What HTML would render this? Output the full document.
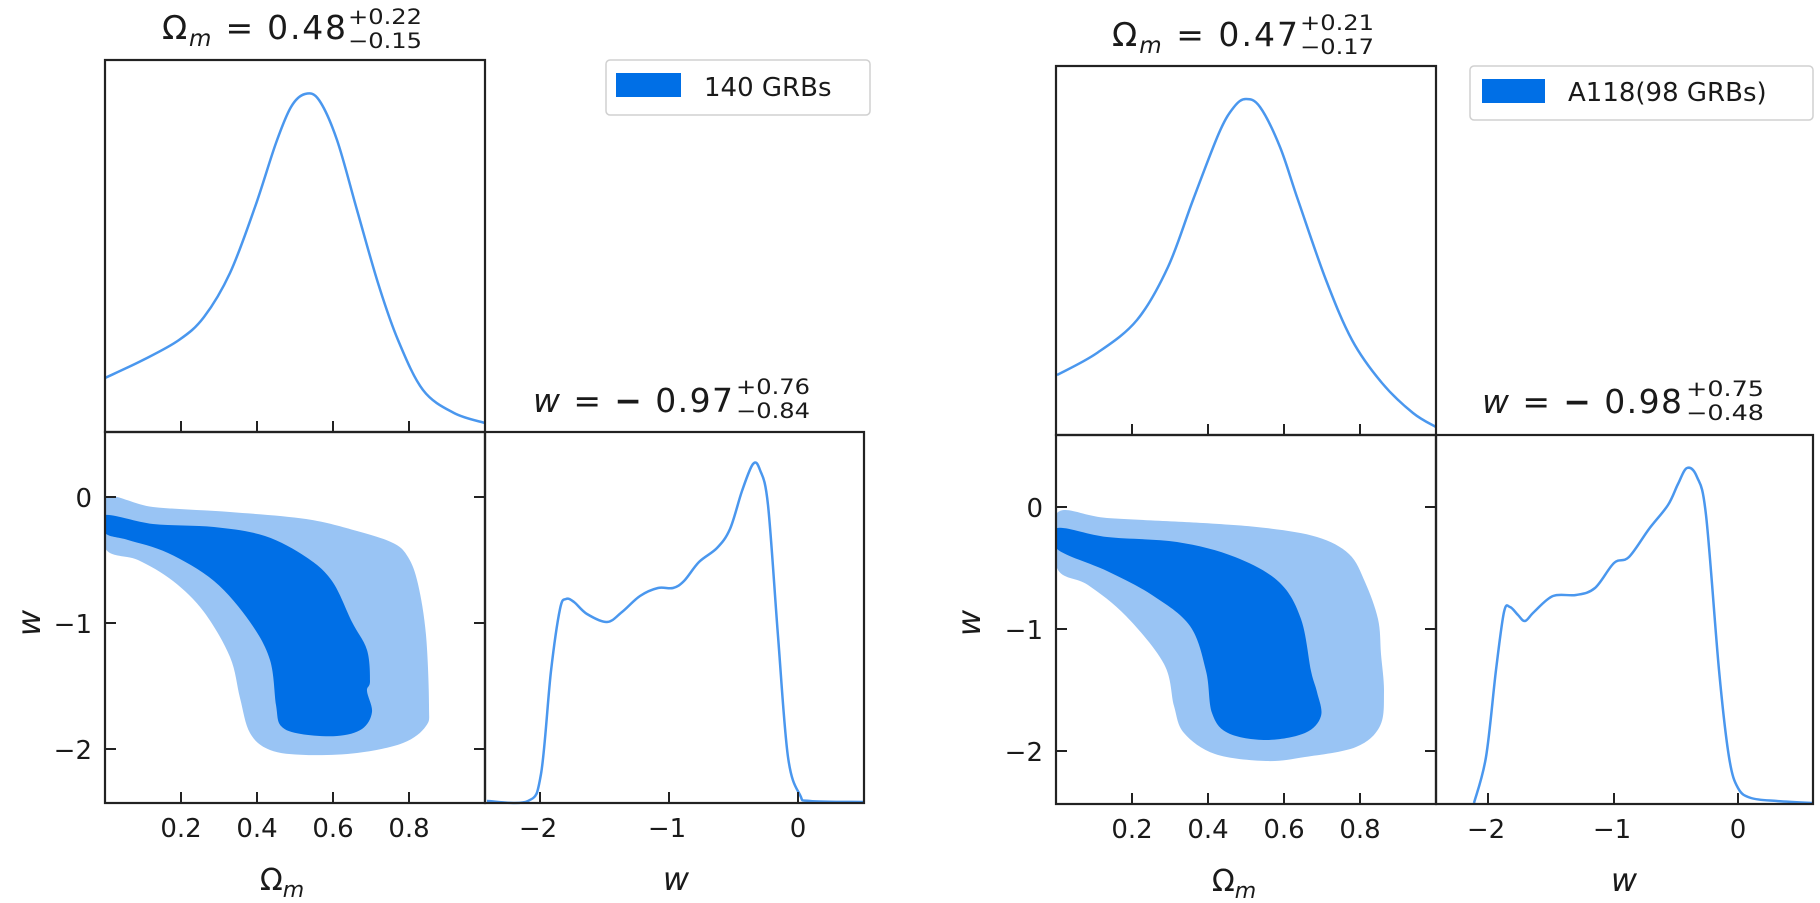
<!DOCTYPE html>
<html><head><meta charset="utf-8"><style>
html,body{margin:0;padding:0;background:#fff;}
svg{display:block;}
text{font-family:"DejaVu Sans","Liberation Sans",sans-serif;fill:#1a1a1a;}
</style></head><body>
<svg id="s" width="1820" height="903" viewBox="0 0 1820 903" xmlns="http://www.w3.org/2000/svg">
<!-- ========== LEFT FIGURE ========== -->
<g>
 <polygon class="sm" points="105,498 153,507 230,512 306,519 357,531 393,543 408,557 418,584 426,635 429,705 426,726 403,743 357,753 306,755 270,750 250,733 240,698 230,657 204,612 173,581 138,560 105,548" fill="#99c4f4"/>
 <polygon class="sm" points="105,515 153,524 214,527 265,536 306,557 332,581 352,622 367,650 370,681 367,691 372,712 362,729 337,736 301,734 281,726 276,705 270,660 250,622 214,581 168,553 128,540 105,533" fill="#006fe6"/>
 <rect x="95" y="490" width="10" height="70" fill="#fff"/>
 <polyline class="sm" fill="none" stroke="#4a97ee" stroke-width="2.5" points="105,378 143,360 179,340 204,317 230,273 255,207 276,143 291,107 305,94 319,100 337,140 357,210 378,283 398,340 423,390 454,413 485,423"/>
 <polyline class="sm" fill="none" stroke="#4a97ee" stroke-width="2.5" points="487,801 528,801 541,774 551,671 560,609 566,599 574,602 587,614 607,622 622,612 640,596 658,588 673,588 684,581 699,562 717,548 730,529 742,491 753,464 760,470 768,505 778,636 788,757 800,795 810,801 864,802"/>
 <g fill="none" stroke="#222" stroke-width="2.2">
  <rect x="105" y="60" width="380" height="372"/>
  <rect x="105" y="432" width="380" height="371"/>
  <rect x="485" y="432" width="379" height="371"/>
 </g>
 <g stroke="#222" stroke-width="2">
  <path d="M181,432v-11M257,432v-11M333,432v-11M409,432v-11"/>
  <path d="M181,803v-11M257,803v-11M333,803v-11M409,803v-11"/>
  <path d="M105,497h11M105,623h11M105,749h11M485,497h-11M485,623h-11M485,749h-11"/>
  <path d="M540,803v-11M669,803v-11M798,803v-11"/>
 </g>
 <g font-size="26" text-anchor="middle">
  <text x="181" y="837">0.2</text><text x="257" y="837">0.4</text><text x="333" y="837">0.6</text><text x="409" y="837">0.8</text>
  <text x="538" y="837">−2</text><text x="667" y="837">−1</text><text x="798" y="837">0</text>
 </g>
 <g font-size="26" text-anchor="end">
  <text x="92" y="507">0</text><text x="92" y="633">−1</text><text x="92" y="759">−2</text>
 </g>
 <text x="282" y="890" font-size="30" text-anchor="middle">Ω<tspan font-style="italic" font-size="22" dy="7">m</tspan></text>
 <text x="676" y="890" font-size="32" font-style="italic" text-anchor="middle">w</text>
 <text transform="translate(40,623) rotate(-90)" font-size="32" font-style="italic" text-anchor="middle">w</text>
 <text x="162" y="39" font-size="33" textLength="184" lengthAdjust="spacing">Ω<tspan font-style="italic" font-size="23" dy="7">m</tspan><tspan dy="-7"> = 0.48</tspan></text>
 <text x="348" y="24" font-size="21" textLength="74" lengthAdjust="spacingAndGlyphs">+0.22</text>
 <text x="348" y="48" font-size="21" textLength="74" lengthAdjust="spacingAndGlyphs">−0.15</text>
 <text x="533" y="412" font-size="33" textLength="200" lengthAdjust="spacing"><tspan font-style="italic">w</tspan> = <tspan font-weight="bold">−</tspan> 0.97</text>
 <text x="736" y="394" font-size="21" textLength="74" lengthAdjust="spacingAndGlyphs">+0.76</text>
 <text x="736" y="418" font-size="21" textLength="74" lengthAdjust="spacingAndGlyphs">−0.84</text>
 <rect x="606" y="60" width="264" height="55" rx="4" fill="#fff" stroke="#d0d0d0" stroke-width="1.5"/>
 <rect x="616" y="73" width="65" height="24" fill="#006fe6"/>
 <text x="704" y="96" font-size="26">140 GRBs</text>
</g>

<!-- ========== RIGHT FIGURE ========== -->
<g>
 <polygon class="sm" points="1057,513 1107,518 1203,523 1266,528 1317,537 1349,554 1365,582 1378,619 1381,654 1384,692 1380,726 1356,747 1305,757 1266,761 1215,754 1184,733 1174,706 1164,664 1126,616 1088,585 1057,568" fill="#99c4f4"/>
 <polygon class="sm" points="1057,528 1107,537 1177,542 1235,557 1279,582 1301,619 1311,671 1317,692 1321,716 1305,733 1266,740 1228,733 1212,713 1206,671 1190,626 1152,595 1107,571 1057,549" fill="#006fe6"/>
 <rect x="1046" y="500" width="10" height="80" fill="#fff"/>
 <polyline class="sm" fill="none" stroke="#4a97ee" stroke-width="2.5" points="1057,375 1097,353 1137,320 1168,267 1193,200 1219,133 1234,107 1246,99 1260,107 1280,147 1298,200 1326,280 1352,340 1382,383 1413,413 1436,427"/>
 <polyline class="sm" fill="none" stroke="#4a97ee" stroke-width="2.5" points="1474,803 1486,757 1496,670 1504,612 1510,607 1518,615 1525,621 1534,612 1553,596 1576,595 1595,588 1614,563 1629,557 1649,529 1668,505 1678,484 1687,468 1697,477 1706,515 1719,670 1729,757 1738,788 1751,798 1777,801 1813,803"/>
 <g fill="none" stroke="#222" stroke-width="2.2">
  <rect x="1056" y="66" width="380" height="369"/>
  <rect x="1056" y="435" width="380" height="369"/>
  <rect x="1436" y="435" width="377" height="369"/>
 </g>
 <g stroke="#222" stroke-width="2">
  <path d="M1132,435v-11M1208,435v-11M1284,435v-11M1360,435v-11"/>
  <path d="M1132,804v-11M1208,804v-11M1284,804v-11M1360,804v-11"/>
  <path d="M1056,507h11M1056,629h11M1056,751h11M1436,507h-11M1436,629h-11M1436,751h-11"/>
  <path d="M1488,804v-11M1614,804v-11M1738,804v-11"/>
 </g>
 <g font-size="26" text-anchor="middle">
  <text x="1132" y="838">0.2</text><text x="1208" y="838">0.4</text><text x="1284" y="838">0.6</text><text x="1360" y="838">0.8</text>
  <text x="1486" y="838">−2</text><text x="1612" y="838">−1</text><text x="1738" y="838">0</text>
 </g>
 <g font-size="26" text-anchor="end">
  <text x="1043" y="517">0</text><text x="1043" y="639">−1</text><text x="1043" y="761">−2</text>
 </g>
 <text x="1234" y="891" font-size="30" text-anchor="middle">Ω<tspan font-style="italic" font-size="22" dy="7">m</tspan></text>
 <text x="1624" y="891" font-size="32" font-style="italic" text-anchor="middle">w</text>
 <text transform="translate(980,623) rotate(-90)" font-size="32" font-style="italic" text-anchor="middle">w</text>
 <text x="1112" y="46" font-size="33" textLength="186" lengthAdjust="spacing">Ω<tspan font-style="italic" font-size="23" dy="7">m</tspan><tspan dy="-7"> = 0.47</tspan></text>
 <text x="1300" y="30" font-size="21" textLength="74" lengthAdjust="spacingAndGlyphs">+0.21</text>
 <text x="1300" y="54" font-size="21" textLength="74" lengthAdjust="spacingAndGlyphs">−0.17</text>
 <text x="1482" y="413" font-size="33" textLength="200" lengthAdjust="spacing"><tspan font-style="italic">w</tspan> = <tspan font-weight="bold">−</tspan> 0.98</text>
 <text x="1686" y="396" font-size="21" textLength="78" lengthAdjust="spacingAndGlyphs">+0.75</text>
 <text x="1686" y="420" font-size="21" textLength="78" lengthAdjust="spacingAndGlyphs">−0.48</text>
 <rect x="1470" y="66" width="343" height="54" rx="4" fill="#fff" stroke="#d0d0d0" stroke-width="1.5"/>
 <rect x="1482" y="79" width="63" height="24" fill="#006fe6"/>
 <text x="1568" y="101" font-size="26">A118(98 GRBs)</text>
</g>
</svg>
<script>
(function(){
var NS="http://www.w3.org/2000/svg";
document.querySelectorAll('.sm').forEach(function(el){
  var closed=el.tagName.toLowerCase()==='polygon';
  var nums=el.getAttribute('points').trim().split(/[\s,]+/).map(Number);
  var p=[];for(var i=0;i<nums.length;i+=2)p.push([nums[i],nums[i+1]]);
  var n=p.length,d='M'+p[0][0]+','+p[0][1];
  var segs=closed?n:n-1;
  function g(i){if(closed)return p[(i+n)%n];return p[Math.max(0,Math.min(n-1,i))];}
  for(var i=0;i<segs;i++){
    var p0=g(i-1),p1=g(i),p2=g(i+1),p3=g(i+2);
    var c1=[p1[0]+(p2[0]-p0[0])/6,p1[1]+(p2[1]-p0[1])/6];
    var c2=[p2[0]-(p3[0]-p1[0])/6,p2[1]-(p3[1]-p1[1])/6];
    d+='C'+c1[0].toFixed(1)+','+c1[1].toFixed(1)+' '+c2[0].toFixed(1)+','+c2[1].toFixed(1)+' '+p2[0]+','+p2[1];
  }
  if(closed)d+='Z';
  var path=document.createElementNS(NS,'path');
  path.setAttribute('d',d);
  ['fill','stroke','stroke-width'].forEach(function(a){if(el.getAttribute(a))path.setAttribute(a,el.getAttribute(a));});
  path.setAttribute('stroke-linejoin','round');
  el.parentNode.replaceChild(path,el);
});
})();
</script>
</body></html>
